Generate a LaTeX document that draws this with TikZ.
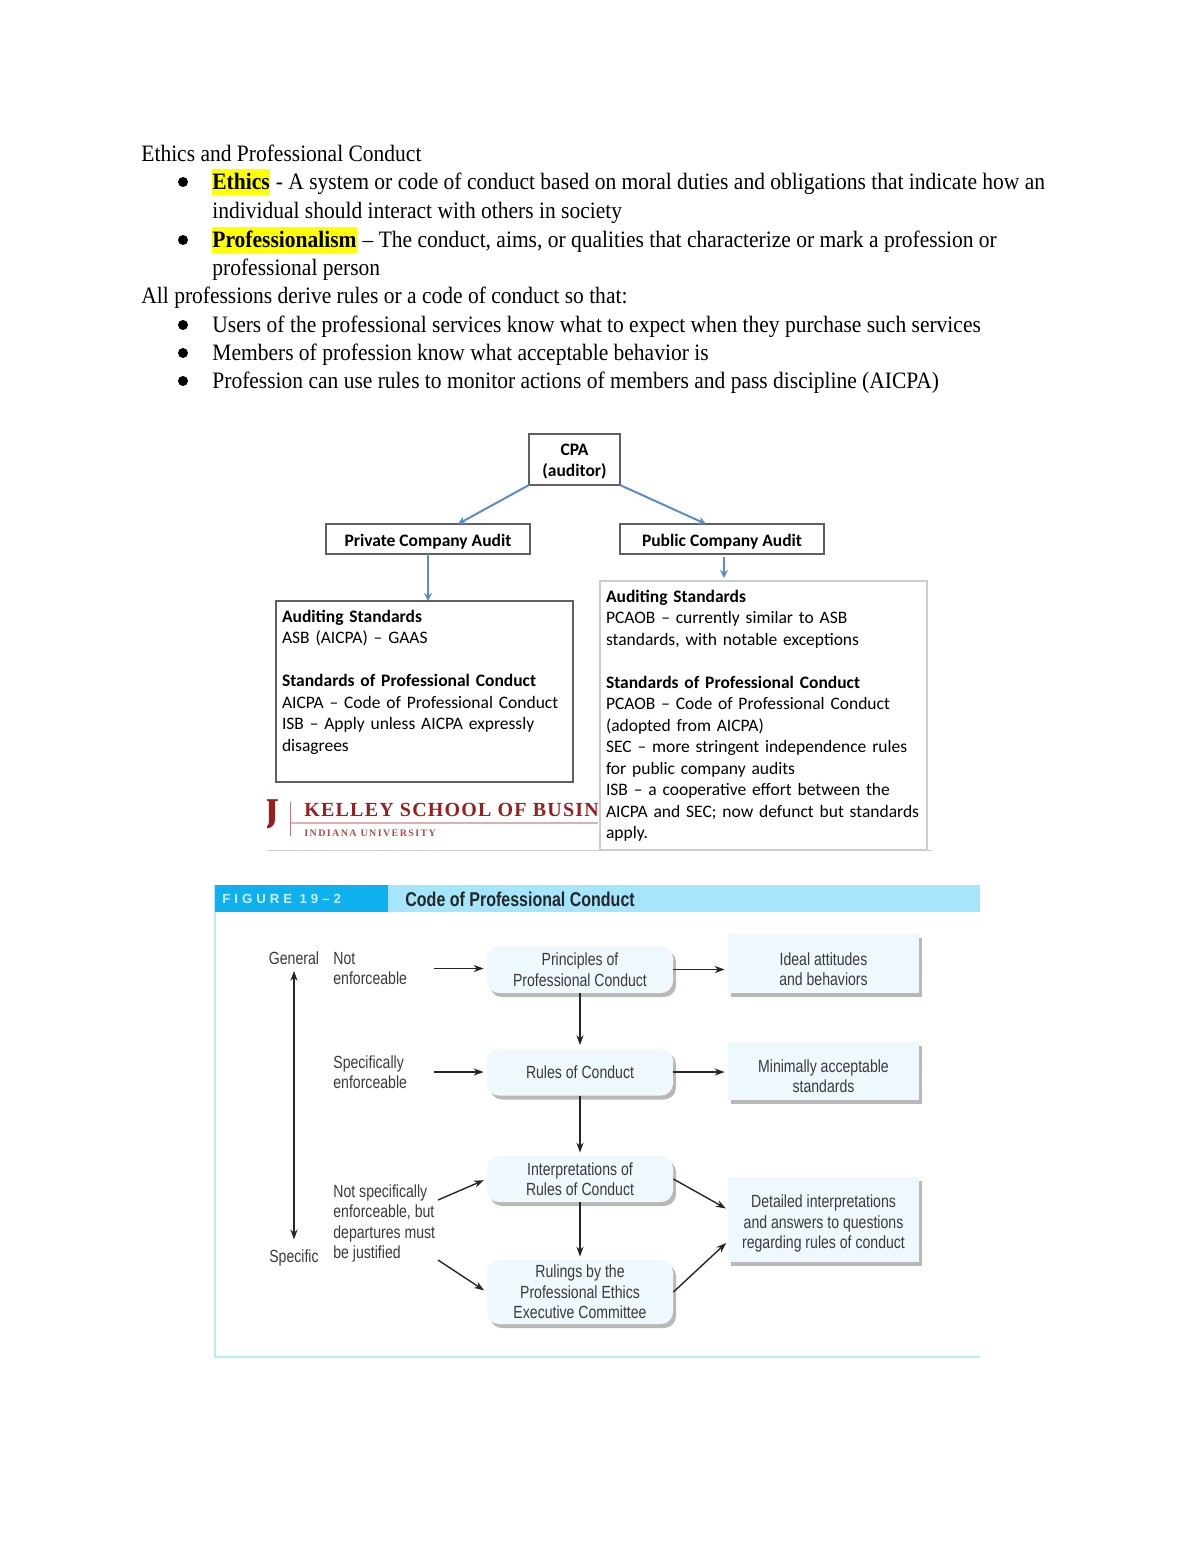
\documentclass[tikz,border=0pt]{standalone}
\usepackage{fontspec}
\usetikzlibrary{positioning,shadows,arrows.meta}
\setmainfont[FakeStretch=0.915]{Liberation Serif}
\newfontfamily\boxfont{Carlito}
\newfontfamily\figfont[FakeStretch=0.8]{Liberation Sans}
\newfontfamily\logofont[LetterSpace=6]{Liberation Serif}
\newfontfamily\logosmall[LetterSpace=14]{Liberation Serif}
\newfontfamily\tagfont[LetterSpace=30]{Liberation Sans}
\newcommand\dropline[1]{\rule{0pt}{#1pt}}
\definecolor{markyellow}{HTML}{FFFF00}
\definecolor{auditblue}{HTML}{5B8CC6}
\definecolor{boxgray}{HTML}{606060}
\definecolor{paleline}{HTML}{C9CDD2}
\definecolor{kelleyred}{HTML}{96201F}
\definecolor{figdark}{HTML}{0FB0EE}
\definecolor{figlight}{HTML}{A6E6FC}
\definecolor{figedge}{HTML}{B8ECFC}
\definecolor{figfill}{HTML}{EFF8FD}
\definecolor{figtext}{HTML}{3A3A3A}
\tikzset{
  bodytext/.style={anchor=base west, inner sep=0pt, font=\fontsize{11.75}{14}\selectfont},
  marked/.style={bodytext, fill=markyellow, text height=10pt, text depth=3pt, font=\fontsize{11.75}{14}\selectfont\bfseries},
  bulletdot/.style={circle, fill=black, inner sep=0pt, minimum size=5pt},
  auditbox/.style={draw=boxgray, line width=0.65pt, inner sep=0pt, outer sep=0pt, align=center,
    font=\boxfont\fontsize{8.75}{10.75}\selectfont},
  textbox/.style={auditbox, align=left, inner xsep=3pt},
  auditarrow/.style={-{Stealth[length=4pt, width=4pt]}, auditblue, line width=1pt},
  figlabel/.style={anchor=west, inner sep=0pt, align=left, text=figtext,
    font=\figfont\fontsize{8.8}{10.3}\selectfont},
  figarrow/.style={-{Stealth[length=5pt, width=3.6pt]}, black!85, line width=0.7pt, shorten >=1.5pt},
  roundbox/.style={rounded corners=6pt, fill=figfill, minimum width=93pt, inner sep=0pt, align=center,
    text=figtext, font=\figfont\fontsize{8.8}{10.3}\selectfont,
    drop shadow={shadow xshift=1.5pt, shadow yshift=-2pt, fill=black!35, opacity=.8}},
  squarebox/.style={roundbox, rounded corners=0pt, minimum width=95.5pt}
}
\begin{document}
\begin{tikzpicture}[x=0.5pt,y=-0.5pt]
    \useasboundingbox (0,0) rectangle (1200,1553);
    \def\xBody{141}     % left edge of the plain lines
    \def\xItem{212}     % left edge of the bullet items
    \def\xDot{183}      % x-coordinate of the bullets
    \def\xFlow{580}     % centre of the rounded boxes
    \def\xGoal{823.5}   % centre of the square boxes

    % Notes at the top
    \node[bodytext] (title) at (\xBody, 161) {Ethics and Professional Conduct};
    \node[bulletdot] (dotA) at (\xDot, 182) {};
    \node[marked] (ethics) at (\xItem, 189) {Ethics};
    \node[bodytext] (ethicsrest) at (ethics.base east) {\ - A system or code of conduct based on moral duties and obligations that indicate how an};
    \node[bodytext] (ethicsmore) at (\xItem, 218) {individual should interact with others in society};
    \node[bulletdot] (dotB) at (\xDot, 240) {};
    \node[marked] (prof) at (\xItem, 247) {Professionalism};
    \node[bodytext] (profrest) at (prof.base east) {\ – The conduct, aims, or qualities that characterize or mark a profession or};
    \node[bodytext] (profmore) at (\xItem, 275) {professional person};
    \node[bodytext] (allprof) at (\xBody, 303) {All professions derive rules or a code of conduct so that:};
    \node[bulletdot] (dotC) at (\xDot, 325) {};
    \node[bodytext] (users) at (\xItem, 332) {Users of the professional services know what to expect when they purchase such services};
    \node[bulletdot] (dotD) at (\xDot, 353) {};
    \node[bodytext] (members) at (\xItem, 360) {Members of profession know what acceptable behavior is};
    \node[bulletdot] (dotE) at (\xDot, 381) {};
    \node[bodytext] (monitor) at (\xItem, 388) {Profession can use rules to monitor actions of members and pass discipline (AICPA)};

    % Logo under the audit boxes
    \draw[kelleyred!35, line width=0.6pt] (290, 823) -- (598, 823);
    \draw[kelleyred!60, line width=0.5pt] (290, 802) -- (290, 836);
    \node[anchor=base west, inner sep=0pt, text=kelleyred, font=\logofont\fontsize{10}{12}\selectfont\bfseries] (kelley) at (304, 816) {KELLEY SCHOOL OF BUSIN};
    \begin{scope}
        \clip (267, 790) rectangle (598, 845);
        \node[anchor=base, inner sep=0pt, text=kelleyred, font=\fontsize{22}{22}\selectfont\bfseries] (kelleyj) at (270, 828) {J};
    \end{scope}
    \node[anchor=base west, inner sep=0pt, text=kelleyred!80, font=\logosmall\fontsize{5}{6}\selectfont\bfseries] (indiana) at (304, 836.5) {INDIANA UNIVERSITY};
    \draw[paleline, line width=0.8pt] (267, 850.5) -- (932, 850.5);

    % Audit boxes
    \node[auditbox, minimum width=45.5pt, minimum height=25.5pt] (cpa) at (574.5, 459.5) {\dropline{7.6}\textbf{CPA}\\\textbf{(auditor)}};
    \node[auditbox, minimum width=102pt, minimum height=15pt] (private) at (428, 539) {\dropline{8.5}\textbf{Private Company Audit}};
    \node[auditbox, minimum width=102pt, minimum height=15pt] (public) at (722, 539) {\dropline{8.5}\textbf{Public Company Audit}};
    \node[textbox, minimum width=148.5pt, minimum height=90.5pt, text width=142.5pt] (privatetext) at (424.5, 691.5) {%
        \textbf{Auditing Standards}\\
        ASB (AICPA) – GAAS\\
        \mbox{}\\
        \textbf{Standards of Professional Conduct}\\
        AICPA – Code of Professional Conduct\\
        ISB – Apply unless AICPA expressly\\
        disagrees\\
        \mbox{}};
    \node[textbox, draw=paleline, minimum width=163.5pt, minimum height=134.5pt, text width=157.5pt] (publictext) at (763.5, 715.5) {%
        \textbf{Auditing Standards}\\
        PCAOB – currently similar to ASB\\
        standards, with notable exceptions\\
        \mbox{}\\
        \textbf{Standards of Professional Conduct}\\
        PCAOB – Code of Professional Conduct\\
        (adopted from AICPA)\\
        SEC – more stringent independence rules\\
        for public company audits\\
        ISB – a cooperative effort between the\\
        \mbox{AICPA and SEC; now defunct but standards}\\
        apply.};

    \coordinate (privatetop) at (458, 524);
    \coordinate (publictop) at (706, 524);
    \draw[auditarrow] (cpa.south west) -- (privatetop);
    \draw[auditarrow] (cpa.south east) -- (publictop);
    \draw[auditarrow] (private.south) -- (private.south |- privatetext.north);
    \draw[auditarrow, shorten <=1.5pt, shorten >=1.5pt] ([xshift=1pt]public.south) -- ([xshift=1pt]public.south |- publictext.north);

    % Figure frame and heading
    \draw[figedge, line width=0.7pt] (215, 885) -- (215, 1357) -- (980, 1357);
    \fill[figlight] (388, 885) rectangle (980, 912);
    \node[fill=figdark, minimum width=86.5pt, minimum height=13.5pt, inner sep=0pt] (figtag) at (301.5, 898.5) {};
    \node[anchor=west, inner sep=0pt, text=figlight!60, font=\tagfont\fontsize{6.6}{8}\selectfont\bfseries] (figno) at (222, 899) {FIGURE 19–2};
    \node[anchor=west, inner sep=0pt, text=black!85, font=\figfont\fontsize{10}{11}\selectfont\bfseries] (figname) at (405, 899) {Code of Professional Conduct};

    % Rounded boxes
    \node[roundbox, minimum height=23.5pt] (principles) at (\xFlow, 969.5) {Principles of\\Professional Conduct};
    \node[roundbox, minimum height=23.5pt] (rules) at (\xFlow, 1072) {Rules of Conduct};
    \node[roundbox, minimum height=23pt] (interp) at (\xFlow, 1179) {Interpretations of\\Rules of Conduct};
    \node[roundbox, minimum height=32pt] (rulings) at (\xFlow, 1292) {Rulings by the\\Professional Ethics\\Executive Committee};

    % Square boxes
    \node[squarebox, minimum height=29.5pt] (ideal) at (\xGoal, 963.5) {\dropline{12}Ideal attitudes\\and behaviors};
    \node[squarebox, minimum height=29pt] (minimal) at (\xGoal, 1071) {\dropline{11.5}Minimally acceptable\\standards};
    \node[squarebox, minimum height=42.5pt] (detailed) at (\xGoal, 1219.5) {\dropline{10.5}Detailed interpretations\\and answers to questions\\regarding rules of conduct};

    % Labels on the left
    \node[figlabel, anchor=center] (general) at (294, 958) {General};
    \node[figlabel, anchor=center] (specific) at (294, 1258) {Specific};
    \node[figlabel, text width=50pt] (notenf) at (333, 968.5) {Not\\enforceable};
    \node[figlabel, text width=50pt] (specenf) at (333, 1072) {Specifically\\enforceable};
    \node[figlabel] (notspec) at (333, 1223.5) {Not specifically\\enforceable, but\\departures must\\be justified};
    \coordinate (notspectop) at (438, 1200);
    \coordinate (notspecend) at (438, 1260);

    \draw[{Stealth[length=5pt, width=3.6pt]}-{Stealth[length=5pt, width=3.6pt]}, black!85, line width=0.7pt, shorten <=3pt, shorten >=5pt] (general) -- (specific);
    \draw[figarrow] (notenf) -- (notenf -| principles.west);
    \draw[figarrow] (specenf) -- (specenf -| rules.west);
    \draw[figarrow] (notspectop) -- (interp.west);
    \draw[figarrow] (notspecend) -- (rulings.west);
    \draw[figarrow] (principles) -- (ideal.west |- principles);
    \draw[figarrow] (rules) -- (minimal.west |- rules);
    \draw[figarrow] (principles) -- (rules);
    \draw[figarrow] (rules) -- (interp);
    \draw[figarrow] (interp) -- (rulings);
    \draw[figarrow, shorten >=1pt] (interp.east) -- (detailed.174);
    \draw[figarrow, shorten >=1pt] (rulings.east) -- (detailed.193);
\end{tikzpicture}
\end{document}
